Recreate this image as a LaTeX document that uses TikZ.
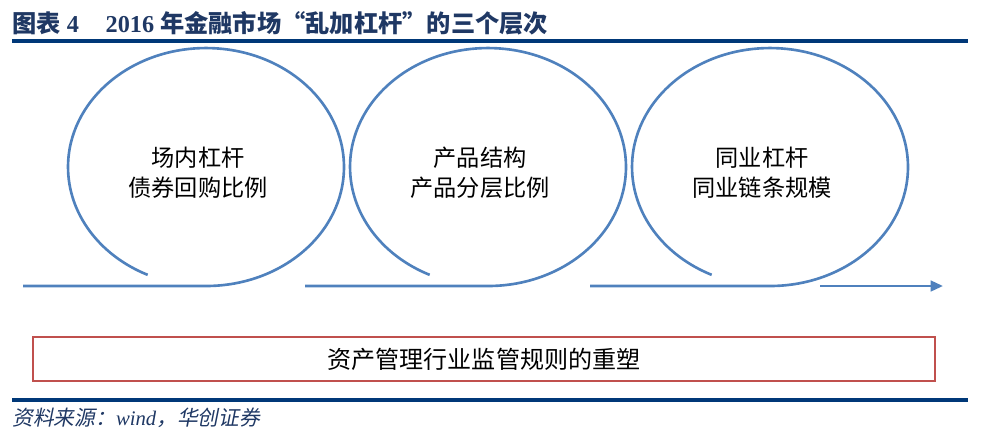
\documentclass[tikz,border=0pt]{standalone}
\usepackage{fontspec}
\setmainfont{Liberation Serif}
\newfontfamily\cjk{Noto Sans CJK SC}
\newfontfamily\cjkit{Noto Sans CJK SC}[FakeSlant=0.2]
\usetikzlibrary{arrows.meta, positioning, calc}
\definecolor{titleblue}{RGB}{31,56,100}
\definecolor{rulenavy}{RGB}{0,56,120}
\definecolor{loopblue}{RGB}{79,129,189}
\definecolor{boxred}{RGB}{192,80,77}

\begin{document}
\begin{tikzpicture}[
    x=0.02cm, y=0.02cm,
    looptext/.style={align=center, inner sep=0, font=\cjk\fontsize{13.2}{17}\selectfont},
    loopline/.style={draw=loopblue, line width=1.5pt},
    rulebar/.style={draw=rulenavy, line width=1.8pt},
    arrow/.style={loopline, -{Triangle[length=7pt, width=6pt]}},
    reformbox/.style={draw=boxred, line width=1.5pt, minimum width=902*0.02cm, minimum height=44*0.02cm, font=\cjk\fontsize{13.7}{16}\selectfont}
]
\useasboundingbox (0,0) rectangle (986,-433);

% Titel
\node[anchor=west, inner sep=0, text=titleblue, font=\fontsize{13.8}{16}\selectfont\bfseries] (title) at (12,-23)
    {{\cjk 图表} 4\hspace{1.1em}2016 {\cjk 年金融市场“乱加杠杆”的三个层次}};
\coordinate (topl) at (12,-41);
\coordinate (topr) at (968,-41);
\draw[rulebar] (topl) -- (topr);

% Schleifen
\coordinate (c1) at (206,-167);
\coordinate (c2) at (488,-167);
\coordinate (c3) at (770,-167);
\coordinate (in1) at (23,-286);
\coordinate (in2) at (305,-286);
\coordinate (in3) at (590,-286);
\draw[loopline] (in1) -- (c1 |- in1) arc[start angle=-90, end angle=245, x radius=2.76cm, y radius=2.38cm];
\draw[loopline] (in2) -- (c2 |- in2) arc[start angle=-90, end angle=245, x radius=2.76cm, y radius=2.38cm];
\draw[loopline] (in3) -- (c3 |- in3) arc[start angle=-90, end angle=245, x radius=2.76cm, y radius=2.38cm];

% Pfeil
\coordinate (out1) at (820,-286);
\coordinate (out2) at (943,-286);
\draw[arrow] (out1) -- (out2);

% Texte
\node[looptext] (onmarket) at (198,-173) {场内杠杆\\债券回购比例};
\node[looptext] (product) at (480,-173) {产品结构\\产品分层比例};
\node[looptext] (interbank) at (762,-173) {同业杠杆\\同业链条规模};

% Regeln
\node[reformbox] (reform) at (484,-359) {资产管理行业监管规则的重塑};

% Quelle
\coordinate (botl) at (12,-400);
\coordinate (botr) at (968,-400);
\draw[rulebar] (botl) -- (botr);
\node[anchor=west, inner sep=0, text=titleblue, font=\fontsize{11.8}{14}\selectfont] (source) at (12,-418)
    {{\cjkit 资料来源：}\textit{wind}{\cjkit ，华创证券}};

\end{tikzpicture}
\end{document}
